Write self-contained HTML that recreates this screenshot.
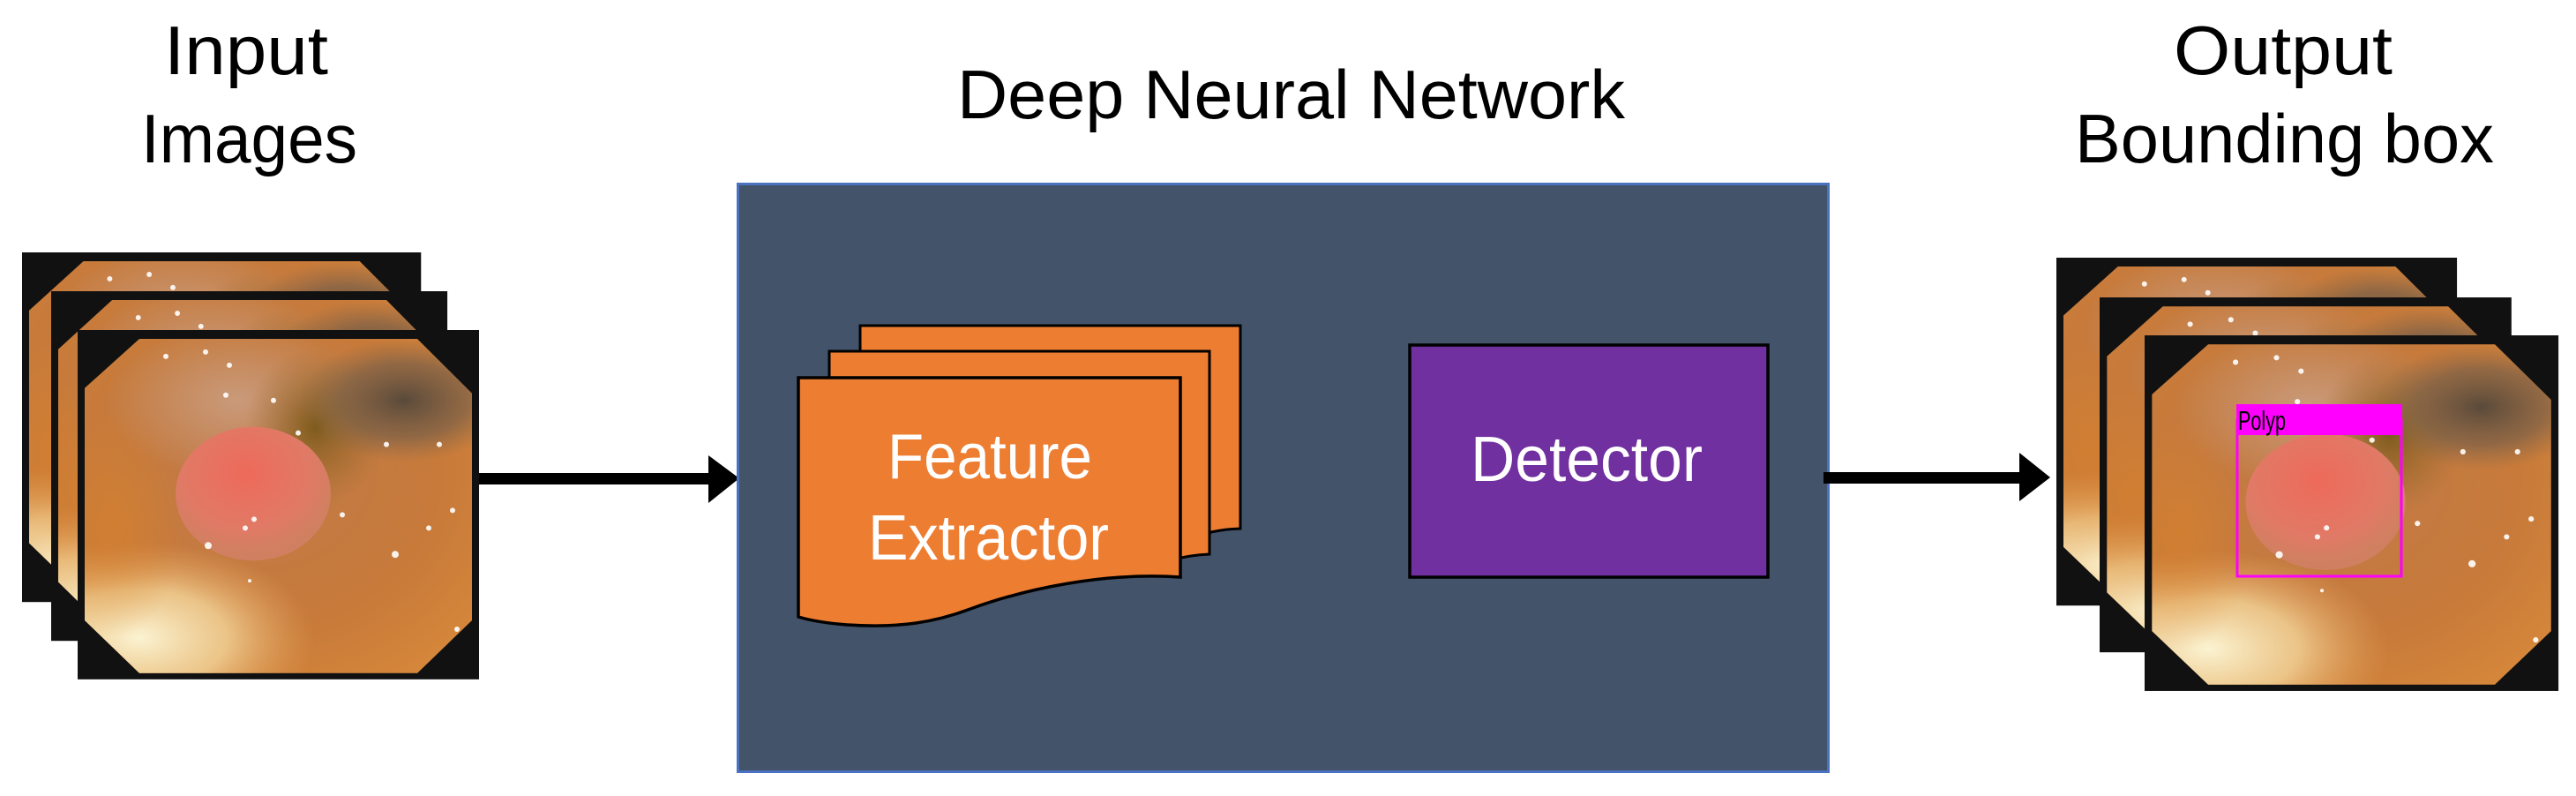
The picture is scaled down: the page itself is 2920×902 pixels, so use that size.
<!DOCTYPE html>
<html><head><meta charset="utf-8"><style>
html,body{margin:0;padding:0;background:#fff;}
svg{display:block;}
text{font-family:"Liberation Sans",sans-serif;}
</style></head><body>
<svg width="2920" height="902" viewBox="0 0 2920 902" xmlns="http://www.w3.org/2000/svg">
<defs>
  <radialGradient id="base" cx="0.45" cy="0.4" r="0.75">
    <stop offset="0" stop-color="#c07a48"/>
    <stop offset="0.6" stop-color="#c77a3a"/>
    <stop offset="1" stop-color="#d8893a"/>
  </radialGradient>
  <radialGradient id="bright" cx="0.5" cy="0.5" r="0.5">
    <stop offset="0" stop-color="#fbf3d2"/>
    <stop offset="0.5" stop-color="#f3d59a" stop-opacity="0.8"/>
    <stop offset="1" stop-color="#e8a860" stop-opacity="0"/>
  </radialGradient>
  <radialGradient id="dark" cx="0.5" cy="0.5" r="0.5">
    <stop offset="0" stop-color="#5a4a3a"/>
    <stop offset="0.6" stop-color="#7a6048" stop-opacity="0.7"/>
    <stop offset="1" stop-color="#8a6848" stop-opacity="0"/>
  </radialGradient>
  <radialGradient id="olive" cx="0.5" cy="0.5" r="0.5">
    <stop offset="0" stop-color="#7d5a1a"/>
    <stop offset="1" stop-color="#9a6a30" stop-opacity="0"/>
  </radialGradient>
  <radialGradient id="polyp" cx="0.45" cy="0.35" r="0.6">
    <stop offset="0" stop-color="#ee6a5a"/>
    <stop offset="0.7" stop-color="#e07a66"/>
    <stop offset="1" stop-color="#d08060"/>
  </radialGradient>
  <radialGradient id="topglow" cx="0.5" cy="0.5" r="0.5">
    <stop offset="0" stop-color="#c99a7a"/>
    <stop offset="1" stop-color="#c99a7a" stop-opacity="0"/>
  </radialGradient>
  <radialGradient id="side" cx="0.5" cy="0.5" r="0.5">
    <stop offset="0" stop-color="#d8822c" stop-opacity="0.6"/>
    <stop offset="1" stop-color="#d8822c" stop-opacity="0"/>
  </radialGradient>
  <clipPath id="oct"><polygon points="70,10 385,10 447,72 447,330 385,390 70,390 8,330 8,66"/></clipPath>
  <g id="endo">
    <rect x="0" y="0" width="455" height="397" fill="#111"/>
    <g clip-path="url(#oct)">
      <rect x="0" y="0" width="455" height="397" fill="url(#base)"/>
      <ellipse cx="180" cy="80" rx="150" ry="90" fill="url(#topglow)"/>
      <ellipse cx="270" cy="110" rx="80" ry="90" fill="url(#olive)"/>
      <ellipse cx="370" cy="80" rx="120" ry="70" fill="url(#dark)"/>
      <ellipse cx="70" cy="350" rx="200" ry="110" fill="url(#bright)"/>
      <ellipse cx="40" cy="220" rx="80" ry="130" fill="url(#side)"/>
      <ellipse cx="199" cy="186" rx="88" ry="76" fill="url(#polyp)"/>
      <g fill="#fff" opacity="0.9">
        <circle cx="100" cy="30" r="3"/><circle cx="145" cy="25" r="3"/><circle cx="172" cy="40" r="3"/>
        <circle cx="168" cy="74" r="3"/><circle cx="222" cy="80" r="3"/><circle cx="250" cy="117" r="3"/>
        <circle cx="350" cy="130" r="3"/><circle cx="410" cy="130" r="3"/><circle cx="300" cy="210" r="3"/>
        <circle cx="398" cy="225" r="3"/><circle cx="360" cy="255" r="4"/><circle cx="148" cy="245" r="4"/>
        <circle cx="190" cy="225" r="3"/><circle cx="200" cy="215" r="3"/><circle cx="425" cy="205" r="3"/>
        <circle cx="430" cy="340" r="3"/><circle cx="195" cy="285" r="2"/>
      </g>
    </g>
  </g>
</defs>

<!-- Titles -->
<text x="186" y="84" font-size="78" textLength="186" lengthAdjust="spacingAndGlyphs">Input</text>
<text x="160" y="184" font-size="78" textLength="245" lengthAdjust="spacingAndGlyphs">Images</text>
<text x="1085" y="134" font-size="78" textLength="757" lengthAdjust="spacingAndGlyphs">Deep Neural Network</text>
<text x="2464" y="84" font-size="78" textLength="248" lengthAdjust="spacingAndGlyphs">Output</text>
<text x="2352" y="184" font-size="78" textLength="475" lengthAdjust="spacingAndGlyphs">Bounding box</text>

<!-- Input image stack -->
<use href="#endo" transform="translate(25,286) scale(0.994,0.998)"/>
<use href="#endo" transform="translate(58,330) scale(0.987,0.998)"/>
<use href="#endo" transform="translate(88,374) scale(1,0.997)"/>

<!-- Arrow 1 -->
<rect x="543" y="536" width="262" height="13" fill="#000"/>
<polygon points="803,516 838,542 803,570" fill="#000"/>

<!-- DNN box -->
<rect x="836.5" y="208.5" width="1236" height="666" fill="#435369" stroke="#4a72c0" stroke-width="3"/>

<!-- Feature extractor stack -->
<path d="M975,369 H1406 V599 C1380,600 1370,604 1360,606 L975,606 Z" fill="#ED7D31" stroke="#000" stroke-width="3"/>
<path d="M940,398 H1371 V628 C1350,629 1340,632 1330,634 L940,634 Z" fill="#ED7D31" stroke="#000" stroke-width="3"/>
<path d="M905,428 H1338 V654 C1250,648 1160,668 1100,690 C1060,705 1020,712 960,708 C935,706 918,703 905,699 Z" fill="#ED7D31" stroke="#000" stroke-width="3.5"/>
<text x="1006" y="542" font-size="72" fill="#fff" textLength="232" lengthAdjust="spacingAndGlyphs">Feature</text>
<text x="984" y="634" font-size="72" fill="#fff" textLength="273" lengthAdjust="spacingAndGlyphs">Extractor</text>

<!-- Detector -->
<rect x="1598" y="391" width="406" height="263" fill="#7030A0" stroke="#000" stroke-width="3.5"/>
<text x="1667" y="545" font-size="72" fill="#fff" textLength="263" lengthAdjust="spacingAndGlyphs">Detector</text>

<!-- Arrow 2 -->
<rect x="2067" y="535" width="225" height="13" fill="#000"/>
<polygon points="2289,513 2324,541 2289,568" fill="#000"/>

<!-- Output image stack -->
<use href="#endo" transform="translate(2331,292) scale(0.998,0.993)"/>
<use href="#endo" transform="translate(2380,337) scale(1.026,1.013)"/>
<use href="#endo" transform="translate(2431,380) scale(1.031,1.015)"/>

<!-- Polyp bounding box -->
<rect x="2536" y="476" width="186" height="177" fill="none" stroke="#ff00ff" stroke-width="3"/>
<rect x="2535" y="458" width="188" height="35" fill="#ff00ff"/>
<text x="2537" y="487" font-size="31" fill="#000" textLength="54" lengthAdjust="spacingAndGlyphs">Polyp</text>
</svg>
</body></html>
